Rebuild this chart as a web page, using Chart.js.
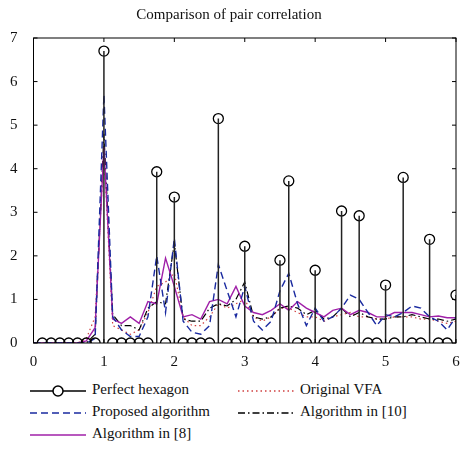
<!DOCTYPE html>
<html><head><meta charset="utf-8">
<script src="https://cdn.jsdelivr.net/npm/chart.js@4"></script>
<style>
body{margin:0;background:#fff;font-family:"Liberation Serif",serif;}
#wrap{position:relative;width:474px;height:375px;}
#legend{position:absolute;left:30px;top:379px;font-size:15px;color:#111;}
.it{position:absolute;white-space:nowrap;height:20px;line-height:20px;}
.it svg{vertical-align:middle;margin-right:6px;}
</style></head><body>
<div id="wrap"><canvas id="c"></canvas></div>
<div id="legend">
 <div class="it" style="left:0;top:0"><svg width="56" height="16"><line x1="0" y1="8" x2="56" y2="8" stroke="#000" stroke-width="1.5"/><circle cx="28" cy="8" r="5" fill="#fff" stroke="#000" stroke-width="1.5"/></svg>Perfect hexagon</div>
 <div class="it" style="left:0;top:22px"><svg width="56" height="16"><line x1="0" y1="8" x2="56" y2="8" stroke="#1a2aa0" stroke-width="1.5" stroke-dasharray="7,4"/></svg>Proposed algorithm</div>
 <div class="it" style="left:0;top:44px"><svg width="56" height="16"><line x1="0" y1="8" x2="56" y2="8" stroke="#a020a8" stroke-width="1.5"/></svg>Algorithm in [8]</div>
 <div class="it" style="left:208px;top:0"><svg width="56" height="16"><line x1="0" y1="8" x2="56" y2="8" stroke="#d04040" stroke-width="1.5" stroke-dasharray="1.5,3"/></svg>Original VFA</div>
 <div class="it" style="left:208px;top:22px"><svg width="56" height="16"><line x1="0" y1="8" x2="56" y2="8" stroke="#000" stroke-width="1.5" stroke-dasharray="7,3,1.5,3"/></svg>Algorithm in [10]</div>
</div>
<script>
const xs = []; for (let i = 0; i <= 48; i++) xs.push(i / 8);
const hexX = [1.0,1.75,2.0,2.625,3.0,3.5,3.625,4.0,4.375,4.625,5.0,5.25,5.625,6.0];
const hexY = [6.7,3.93,3.35,5.15,2.22,1.9,3.72,1.67,3.03,2.92,1.33,3.8,2.38,1.1];
const proposed = [0,0,0,0,0,0,0,0.1,5.7,0.6,0.3,0.15,0.15,0.6,2.0,0.7,2.4,0.5,0.25,0.2,0.4,1.8,1.2,0.6,1.3,0.5,0.3,0.5,1.2,1.6,0.9,0.4,0.8,0.5,0.6,0.8,1.1,1.0,0.7,0.4,0.65,0.6,0.7,0.85,0.8,0.6,0.5,0.3,0.6];
const alg8 = [0,0,0,0,0,0,0.05,0.35,4.5,0.55,0.45,0.6,0.45,0.95,0.9,1.95,1.3,0.6,0.65,0.55,0.95,1.0,0.9,1.3,0.85,0.7,0.65,0.75,0.9,0.75,0.95,0.8,0.7,0.6,0.75,0.8,0.65,0.75,0.7,0.6,0.6,0.7,0.7,0.7,0.65,0.6,0.62,0.58,0.58];
const vfa = [0,0,0,0,0,0,0.1,0.6,4.4,0.4,0.3,0.2,0.3,0.7,1.3,1.4,1.6,0.6,0.4,0.4,0.6,0.9,0.8,0.9,1.0,0.6,0.5,0.6,0.8,0.8,0.7,0.6,0.6,0.5,0.6,0.65,0.7,0.6,0.6,0.55,0.55,0.6,0.6,0.6,0.55,0.55,0.5,0.45,0.5];
const alg10 = [0,0,0,0,0,0,0,0.2,4.8,0.65,0.4,0.4,0.3,0.8,0.95,0.9,2.3,0.55,0.5,0.5,0.8,0.9,0.85,1.0,1.4,0.6,0.55,0.6,0.8,0.85,0.8,0.65,0.75,0.55,0.6,0.8,0.6,0.7,0.6,0.55,0.55,0.6,0.6,0.65,0.6,0.55,0.55,0.5,0.55];
const xTicks=[0,1,2,3,4,5,6], yTicks=[0,1,2,3,4,5,6,7];

const pts = a => a.map((y,i)=>({x:xs[i],y}));
const stems = []; hexX.forEach((x,i)=>{stems.push({x,y:0},{x,y:hexY[i]},{x,y:null});});
const circles = xs.slice(1).map(x=>{const k=hexX.indexOf(x);return {x,y:k<0?0:hexY[k]};});

const framePlugin={id:'frame',afterDraw(ch){const c=ch.ctx,a=ch.chartArea,sx=ch.scales.x,sy=ch.scales.y;
 c.save();c.strokeStyle='#000';c.lineWidth=1;c.strokeRect(a.left,a.top,a.right-a.left,a.bottom-a.top);
 c.beginPath();xTicks.forEach(t=>{const p=sx.getPixelForValue(t);c.moveTo(p,a.bottom);c.lineTo(p,a.bottom-4);c.moveTo(p,a.top);c.lineTo(p,a.top+4);});
 yTicks.forEach(t=>{const p=sy.getPixelForValue(t);c.moveTo(a.left,p);c.lineTo(a.left+4,p);c.moveTo(a.right,p);c.lineTo(a.right-4,p);});
 c.stroke();c.restore();}};

new Chart(document.getElementById('c'),{type:'line',
 data:{datasets:[
  {data:stems,borderColor:'#222',borderWidth:1.5,pointRadius:0,spanGaps:false,order:0},
  {data:circles,showLine:false,pointRadius:5,pointBorderColor:'#000',pointBackgroundColor:'rgba(0,0,0,0)',pointBorderWidth:1.3,order:0},
  {data:pts(vfa),borderColor:'#d04040',borderWidth:1.2,borderDash:[1.5,3],pointRadius:0,order:4},
  {data:pts(alg10),borderColor:'#000',borderWidth:1.2,borderDash:[7,3,1.5,3],pointRadius:0,order:3},
  {data:pts(alg8),borderColor:'#a020a8',borderWidth:1.4,pointRadius:0,order:2},
  {data:pts(proposed),borderColor:'#1a2aa0',borderWidth:1.4,borderDash:[7,4],pointRadius:0,order:1}
 ]},
 options:{responsive:true,maintainAspectRatio:false,animation:false,
  layout:{padding:{left:2,right:18,top:0,bottom:2}},
  plugins:{legend:{display:false},tooltip:{enabled:false},
   title:{display:true,text:'Comparison of pair correlation',color:'#111',font:{family:'Liberation Serif',size:15,weight:'normal'},padding:{top:6,bottom:14}}},
  scales:{
   x:{type:'linear',min:0,max:6,afterBuildTicks:s=>{s.ticks=xTicks.map(v=>({value:v}));},grid:{display:false},border:{display:false},
      ticks:{color:'#111',font:{family:'Liberation Serif',size:15},padding:2}},
   y:{min:0,max:7,afterBuildTicks:s=>{s.ticks=yTicks.map(v=>({value:v}));},grid:{display:false},border:{display:false},
      ticks:{color:'#111',font:{family:'Liberation Serif',size:15},padding:8}}
  }},
 plugins:[framePlugin]});
</script></body></html>
